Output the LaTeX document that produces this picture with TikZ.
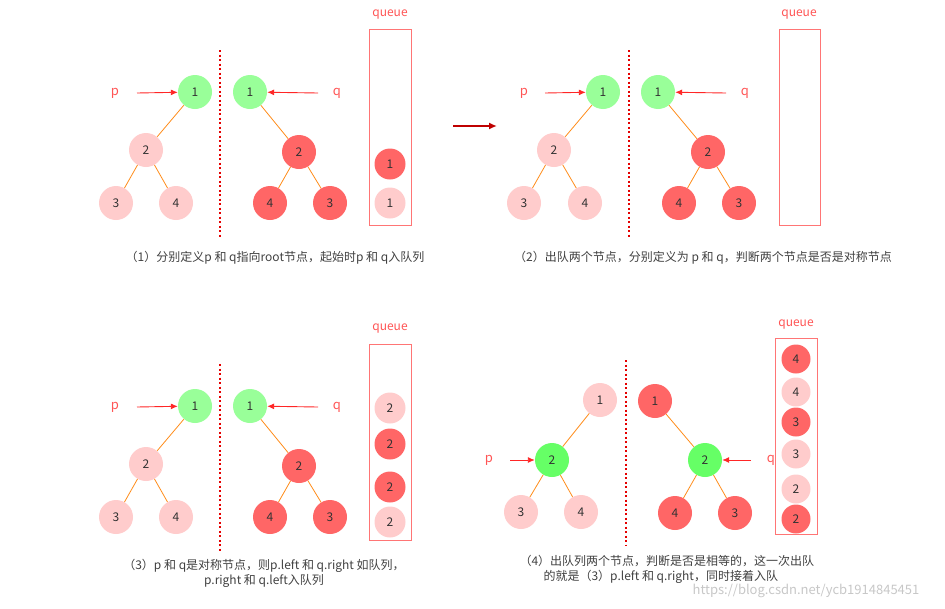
\documentclass[tikz,border=0pt]{standalone}
\usepackage{fontspec}
\setmainfont{Noto Sans CJK SC}
\usetikzlibrary{arrows.meta}
\definecolor{lg}{HTML}{99FF99}
\definecolor{bg}{HTML}{66FF66}
\definecolor{lp}{HTML}{FFCCCC}
\definecolor{dr}{HTML}{FF6666}
\definecolor{ored}{HTML}{FF8C1A}
\definecolor{lab}{HTML}{FF5555}
\tikzset{
 nd/.style={circle,minimum size=34pt,inner sep=0pt,font=\fontsize{12}{12}\selectfont,text=black!80},
 qn/.style={nd,minimum size=31pt},
 G/.style={fill=lg}, B/.style={fill=bg}, L/.style={fill=lp}, D/.style={fill=dr},
 ed/.style={draw=ored,line width=0.8pt},
 ptr/.style={draw=red!85,line width=0.9pt,-{Latex[length=7pt,width=6pt]}},
 lbl/.style={text=lab,font=\fontsize{13}{13}\selectfont},
 sep/.style={draw=red!90!black,line width=2pt,dash pattern=on 2pt off 2.5pt},
 qbox/.style={draw=dr!90,line width=0.8pt},
 captxt/.style={font=\fontsize{12}{15}\selectfont,text=black!75}
}
\begin{document}
\begin{tikzpicture}[x=1pt,y=-1pt]
\useasboundingbox (0,0) rectangle (945,608);
% ---------- Panel 1
\node[nd,G] (a1) at (195,92) {1};
\node[nd,L] (a2) at (146,150) {2};
\node[nd,L] (a3) at (116,203) {3};
\node[nd,L] (a4) at (176,203) {4};
\node[nd,G] (b1) at (250,92) {1};
\node[nd,D] (b2) at (299,152) {2};
\node[nd,D] (b4) at (270,203) {4};
\node[nd,D] (b3) at (330,203) {3};
\draw[ed] (a1)--(a2) (a2)--(a3) (a2)--(a4) (b1)--(b2) (b2)--(b4) (b2)--(b3);
\coordinate (s1a) at (220,50); \coordinate (s1b) at (220,237);
\draw[sep] (s1a)--(s1b);
\node[lbl] (p1) at (115,93) {p};
\node[lbl] (q1) at (337,93) {q};
\coordinate (p1s) at (137,93); \coordinate (q1s) at (318,93);
\draw[ptr] (p1s)--(a1); \draw[ptr] (q1s)--(b1);
\node[qbox,minimum width=42pt,minimum height=196pt,inner sep=0pt] (Q1) at (390,127) {};
\node[lbl,font=\fontsize{12}{12}\selectfont] (ql1) at (390,15) {queue};
\node[qn,D] (q1a) at (390,164) {1};
\node[qn,L] (q1b) at (390,203) {1};
\node[captxt] (c1) at (275,258) {（1）分别定义p 和 q指向root节点，起始时p 和 q入队列};
% big arrow
\coordinate (ba) at (453,126); \coordinate (bb) at (497,126);
\draw[draw=red!75!black,line width=1.6pt,-{Latex[length=8pt,width=7pt]}] (ba)--(bb);
% ---------- Panel 2
\node[nd,G] (c1n) at (603,92) {1};
\node[nd,L] (c2) at (554,150) {2};
\node[nd,L] (c3) at (524,203) {3};
\node[nd,L] (c4) at (585,203) {4};
\node[nd,G] (d1) at (658,92) {1};
\node[nd,D] (d2) at (708,152) {2};
\node[nd,D] (d4) at (679,203) {4};
\node[nd,D] (d3) at (739,203) {3};
\draw[ed] (c1n)--(c2) (c2)--(c3) (c2)--(c4) (d1)--(d2) (d2)--(d4) (d2)--(d3);
\coordinate (s2a) at (629,50); \coordinate (s2b) at (629,237);
\draw[sep] (s2a)--(s2b);
\node[lbl] (p2) at (524,93) {p};
\node[lbl] (q2) at (745,93) {q};
\coordinate (p2s) at (545,93); \coordinate (q2s) at (726,93);
\draw[ptr] (p2s)--(c1n); \draw[ptr] (q2s)--(d1);
\node[qbox,minimum width=41pt,minimum height=196pt,inner sep=0pt] (Q2) at (799.5,127) {};
\node[lbl,font=\fontsize{12}{12}\selectfont] (ql2) at (799,15) {queue};
\node[captxt] (c2t) at (703,258) {（2）出队两个节点，分别定义为 p 和 q，判断两个节点是否是对称节点};
% ---------- Panel 3
\node[nd,G] (e1) at (195,406) {1};
\node[nd,L] (e2) at (146,464) {2};
\node[nd,L] (e3) at (116,517) {3};
\node[nd,L] (e4) at (176,517) {4};
\node[nd,G] (f1) at (250,406) {1};
\node[nd,D] (f2) at (299,466) {2};
\node[nd,D] (f4) at (270,517) {4};
\node[nd,D] (f3) at (330,517) {3};
\draw[ed] (e1)--(e2) (e2)--(e3) (e2)--(e4) (f1)--(f2) (f2)--(f4) (f2)--(f3);
\coordinate (s3a) at (220,364); \coordinate (s3b) at (220,551);
\draw[sep] (s3a)--(s3b);
\node[lbl] (p3) at (115,407) {p};
\node[lbl] (q3) at (337,407) {q};
\coordinate (p3s) at (137,407); \coordinate (q3s) at (318,407);
\draw[ptr] (p3s)--(e1); \draw[ptr] (q3s)--(f1);
\node[qbox,minimum width=42pt,minimum height=196pt,inner sep=0pt] (Q3) at (390,442) {};
\node[lbl,font=\fontsize{12}{12}\selectfont] (ql3) at (390,329) {queue};
\node[qn,L] (q3a) at (390,408) {2};
\node[qn,D] (q3b) at (390,444) {2};
\node[qn,D] (q3c) at (390,487) {2};
\node[qn,L] (q3d) at (390,522) {2};
\node[captxt,align=center] (c3) at (264,573) {（3）p 和 q是对称节点，则p.left 和 q.right 如队列，\\p.right 和 q.left入队列};
% ---------- Panel 4
\node[nd,L] (g1) at (600,400) {1};
\node[nd,B] (g2) at (552,460) {2};
\node[nd,L] (g3) at (521,512) {3};
\node[nd,L] (g4) at (581,512) {4};
\node[nd,D] (h1) at (655,401) {1};
\node[nd,B] (h2) at (705,460) {2};
\node[nd,D] (h4) at (675,513) {4};
\node[nd,D] (h3) at (735,513) {3};
\draw[ed] (g1)--(g2) (g2)--(g3) (g2)--(g4) (h1)--(h2) (h2)--(h4) (h2)--(h3);
\coordinate (s4a) at (626,360); \coordinate (s4b) at (626,546);
\draw[sep] (s4a)--(s4b);
\node[lbl] (p4) at (489,460) {p};
\node[lbl] (q4) at (771,460) {q};
\coordinate (p4s) at (510,460); \coordinate (q4s) at (751,460);
\draw[ptr] (p4s)--(g2); \draw[ptr] (q4s)--(h2);
\node[qbox,minimum width=42pt,minimum height=196pt,inner sep=0pt] (Q4) at (796,436) {};
\node[lbl,font=\fontsize{12}{12}\selectfont] (ql4) at (796,325) {queue};
\node[nd,D,minimum size=29pt] (r1) at (796,359) {4};
\node[nd,L,minimum size=29pt] (r2) at (796,392) {4};
\node[nd,D,minimum size=29pt] (r3) at (796,422) {3};
\node[nd,L,minimum size=29pt] (r4) at (796,454) {3};
\node[nd,L,minimum size=29pt] (r5) at (796,489) {2};
\node[nd,D,minimum size=29pt] (r6) at (796,519) {2};
\node[captxt,anchor=west] (c4a) at (516,561) {（4）出队列两个节点，判断是否是相等的，这一次出队};
\node[captxt,anchor=west] (c4b) at (540,577) {的就是（3）p.left 和 q.right，同时接着入队};
\node[font=\fontsize{13}{13}\selectfont,text=black!22] (wm) at (806,591) {https://blog.csdn.net/ycb1914845451};
\end{tikzpicture}
\end{document}
